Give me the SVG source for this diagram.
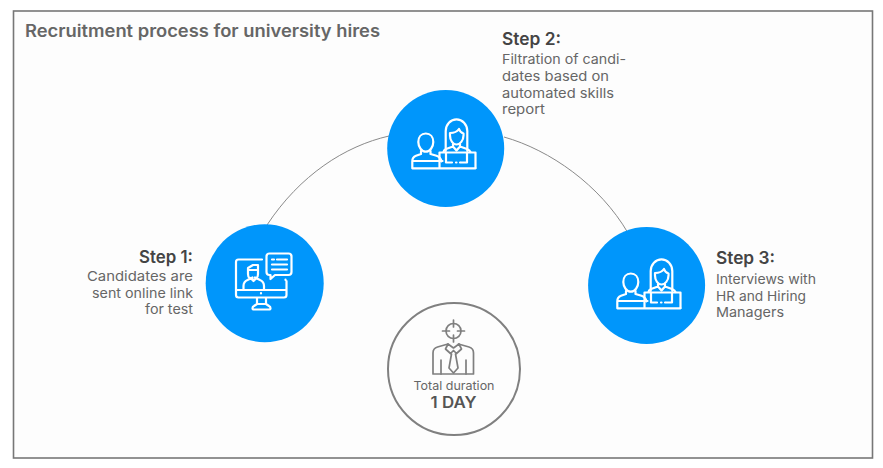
<svg xmlns="http://www.w3.org/2000/svg" width="883" height="468" viewBox="0 0 883 468">
<style>
text{font-family:"Inter","Liberation Sans",sans-serif}
.h{font-size:17px;font-weight:600;fill:#444}
.b{font-size:13.5px;fill:#666}
.w{fill:none;stroke:#fff;stroke-width:2.200;stroke-linejoin:round;stroke-linecap:round}
.g{fill:none;stroke:#7f7f7f;stroke-width:1.700;stroke-linejoin:round;stroke-linecap:round}
.c{fill:#0096fb}
</style>
<defs>
<g id="staff" class="w">
<path d="M425.800 133.500c-4.500 0-7.500 3.500-7.500 8.500c0 5 3.500 9.700 7.500 9.700s7.500-4.700 7.500-9.700c0-5-3-8.500-7.500-8.500z"/>
<path d="M421 151v3l-5 1.800c-2.500 1-3.700 3-3.700 5.500v7h63.200M430.500 151v3l6 1.800c2.500 1 4.500 3 5 5.500M412.500 161h30M425 161h2"/>
<path d="M445.700 151v-20c0-6.500 5-11.700 10.800-11.700s10.800 5.200 10.800 11.700v20"/>
<path d="M450 133c3 0 7-1 9-4c1 3 3 4 4.500 4.500v2c0 5-3.500 9-7 9s-6.500-4-6.500-9z"/>
<path d="M453 144v2.500l-7 2.500c-1.500 .7-2.500 1.500-2.500 3M460 144v2.500l7 2.500c1.500 .7 3 1.500 3.500 3M453 146.500l3.500 4l3.500-4"/>
<path d="M439.500 168v-15.500h36v15.500M446 152.500v10h6M467 152.500v10h-6M456 162.500h.5M460 162.500h.5"/>
</g>
</defs>
<rect x="13.500" y="11" width="859" height="447" fill="#fdfdfd" stroke="#777" stroke-width="1.600"/>
<text x="25" y="36.500" font-size="17" font-weight="600" fill="#666" textLength="355" lengthAdjust="spacingAndGlyphs">Recruitment process for university hires</text>
<g id="connectors" fill="none" stroke="#8a8a8a" stroke-width="1">
<path d="M267 225C300 175 345 146 389 136"/>
<path d="M504 137C550 150 600 185 628 233"/>
</g>
<g id="step1">
<circle class="c" cx="264.700" cy="283.200" r="59"/>
<g class="w">
<path d="M262 259.500h-23.500a2.500 2.500 0 0 0-2.500 2.500v33a2.500 2.500 0 0 0 2.500 2.500h45.500a2.500 2.500 0 0 0 2.500-2.500v-14M285.500 279.500v.5M236 290h50.500M261 293v.5"/>
<path d="M269.500 253.500h19a3 3 0 0 1 3 3v15.500a3 3 0 0 1-3 3h-13.500l-4.500 4v-4h-1a3 3 0 0 1-3-3v-15.500a3 3 0 0 1 3-3zM272 259.500h2M277 259.500h10M272 264.500h15M272 269.500h15"/>
<path d="M243.500 290v-4c0-3.500 1.500-5 4-6l5-2.500M264 290v-4c0-3.500-1.500-5-4-6l-5-2.500M248 268l5-3h5v9c0 3-2 5.500-5 5.500s-5-2.500-5-5.500zM248 270h10M250.500 278l3 3l3-3"/>
<path d="M257 298v6l-3 2c-2 1-2 3.500 0 3.500h15c2 0 2-2.500 0-3.500l-3-2v-6M257 304h9"/>
</g>
</g>
<g id="step2">
<circle class="c" cx="445.700" cy="148.500" r="58.500"/>
<use href="#staff"/>
</g>
<g id="step3">
<circle class="c" cx="646.600" cy="285.500" r="58.500"/>
<use href="#staff" x="205" y="140"/>
</g>
<g id="total">
<circle cx="454" cy="369" r="66" fill="#fdfdfd" stroke="#808080" stroke-width="2"/>
<g class="g">
<circle cx="453.500" cy="331" r="7.500"/>
<path d="M453.500 320v7M453.500 335v7M442.500 331h7M457.500 331h7"/>
<path d="M448 344l-10.500 3c-3 .8-4.500 3-4.500 6v21h40.500v-21c0-3-1.500-5.200-4.500-6l-10.500-3"/>
<path d="M448 344l5.500 4l5.500-4l2.500 5l-5 4.500l-3-3l-3 3l-5-4.500zM451.500 354l-2.500 14l4.500 5l4.500-5l-2.500-14M441 360v14M466 360v14"/>
</g>
<text x="454" y="390" text-anchor="middle" font-size="12" fill="#666" textLength="81" lengthAdjust="spacingAndGlyphs">Total duration</text>
<text x="453.500" y="408" text-anchor="middle" font-size="15.500" font-weight="600" fill="#555" textLength="46" lengthAdjust="spacingAndGlyphs">1 DAY</text>
</g>
<g id="label1">
<text class="h" x="193" y="263" text-anchor="end" textLength="54" lengthAdjust="spacingAndGlyphs">Step 1:</text>
<g class="b" text-anchor="end">
<text x="193" y="281" textLength="106" lengthAdjust="spacingAndGlyphs">Candidates are</text>
<text x="193" y="298" textLength="101" lengthAdjust="spacingAndGlyphs">sent online link</text>
<text x="193" y="314" textLength="48" lengthAdjust="spacingAndGlyphs">for test</text>
</g>
</g>
<g id="label2">
<text class="h" x="502" y="45" textLength="59" lengthAdjust="spacingAndGlyphs">Step 2:</text>
<g class="b">
<text x="502" y="64" textLength="124" lengthAdjust="spacingAndGlyphs">Filtration of candi-</text>
<text x="502" y="81" textLength="107" lengthAdjust="spacingAndGlyphs">dates based on</text>
<text x="502" y="98" textLength="112" lengthAdjust="spacingAndGlyphs">automated skills</text>
<text x="502" y="114" textLength="43" lengthAdjust="spacingAndGlyphs">report</text>
</g>
</g>
<g id="label3">
<text class="h" x="716" y="264" textLength="59" lengthAdjust="spacingAndGlyphs">Step 3:</text>
<g class="b">
<text x="716" y="284" textLength="100" lengthAdjust="spacingAndGlyphs">Interviews with</text>
<text x="716" y="301" textLength="90" lengthAdjust="spacingAndGlyphs">HR and Hiring</text>
<text x="716" y="317" textLength="68" lengthAdjust="spacingAndGlyphs">Managers</text>
</g>
</g>
</svg>
